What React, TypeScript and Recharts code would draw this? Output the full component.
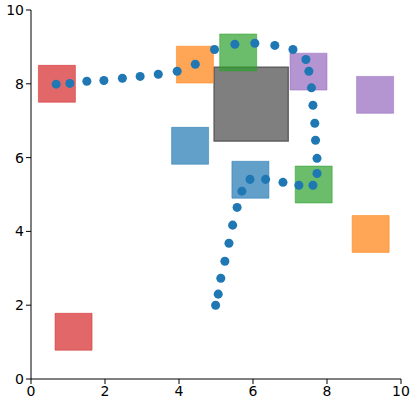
import { ReferenceArea, Scatter, ScatterChart, XAxis, YAxis, ZAxis } from "recharts";

// path of dots
const pathX = [
  0.68, 1.05, 1.51, 1.97, 2.47, 2.95, 3.44, 3.95, 4.44, 4.96, 5.51, 6.05, 6.59, 7.08, 7.43, 7.51, 7.58, 7.62,
  7.67, 7.69, 7.73, 7.73, 7.62, 7.24, 6.81, 6.34, 5.92, 5.7, 5.57, 5.45, 5.35, 5.24, 5.13, 5.06, 4.99,
];
const pathY = [
  7.99, 8.01, 8.07, 8.09, 8.15, 8.2, 8.26, 8.34, 8.53, 8.93, 9.07, 9.1, 9.04, 8.93, 8.66, 8.34, 7.89, 7.42,
  6.93, 6.47, 5.98, 5.57, 5.25, 5.25, 5.33, 5.41, 5.41, 5.09, 4.65, 4.17, 3.68, 3.19, 2.73, 2.3, 2.0,
];

// squares, in data units
const squareX1 = [0.2, 0.65, 3.93, 3.8, 5.1, 7.0, 8.8, 5.43, 7.14, 8.68];
const squareX2 = [1.2, 1.65, 4.93, 4.8, 6.1, 8.0, 9.8, 6.43, 8.14, 9.68];
const squareY1 = [7.5, 0.78, 8.02, 5.82, 8.35, 7.83, 7.2, 4.9, 4.77, 3.43];
const squareY2 = [8.5, 1.78, 9.02, 6.82, 9.35, 8.83, 8.2, 5.9, 5.77, 4.43];
const squareColors = ["#d62728", "#d62728", "#ff7f0e", "#1f77b4", "#2ca02c", "#9467bd", "#9467bd", "#1f77b4", "#2ca02c", "#ff7f0e"];

// the big grey block
const block = { x1: 4.95, x2: 6.95, y1: 6.45, y2: 8.45 };

const ticks = [0, 2, 4, 6, 8, 10];

const points = pathX.map((x, i) => ({ x, y: pathY[i] }));

const tickStyle = { fill: "#000", fontSize: 14, fontFamily: "DejaVu Sans" };

export default function App() {
  return (
    <div style={{ position: "absolute", left: 0, top: 0, background: "#fff" }}>
      <ScatterChart width={416} height={406} margin={{ top: 10, right: 15, left: 0, bottom: 0 }}>
        <XAxis
          type="number"
          dataKey="x"
          domain={[0, 10]}
          ticks={ticks}
          allowDataOverflow
          height={27}
          tick={tickStyle}
          tickSize={5}
          axisLine={{ stroke: "#000" }}
          tickLine={{ stroke: "#000" }}
        />
        <XAxis xAxisId="top" orientation="top" type="number" domain={[0, 10]} height={0} tick={false} tickLine={false} axisLine={{ stroke: "#000" }} />
        <YAxis
          type="number"
          dataKey="y"
          domain={[0, 10]}
          ticks={ticks}
          allowDataOverflow
          width={31}
          tick={tickStyle}
          tickSize={5}
          axisLine={{ stroke: "#000" }}
          tickLine={{ stroke: "#000" }}
        />
        <YAxis yAxisId="right" orientation="right" type="number" domain={[0, 10]} width={0} tick={false} tickLine={false} axisLine={{ stroke: "#000" }} />
        <ZAxis range={[70, 70]} />
        <ReferenceArea
          x1={block.x1}
          x2={block.x2}
          y1={block.y1}
          y2={block.y2}
          fill="#7f7f7f"
          fillOpacity={1}
          stroke="#5f5f5f"
          strokeWidth={1.5}
        />
        {squareColors.map((c, i) => (
          <ReferenceArea
            key={i}
            x1={squareX1[i]}
            x2={squareX2[i]}
            y1={squareY1[i]}
            y2={squareY2[i]}
            fill={c}
            fillOpacity={0.7}
            stroke={c}
            strokeOpacity={0.5}
          />
        ))}
        <Scatter data={points} fill="#1f77b4" isAnimationActive={false} />
      </ScatterChart>
    </div>
  );
}
